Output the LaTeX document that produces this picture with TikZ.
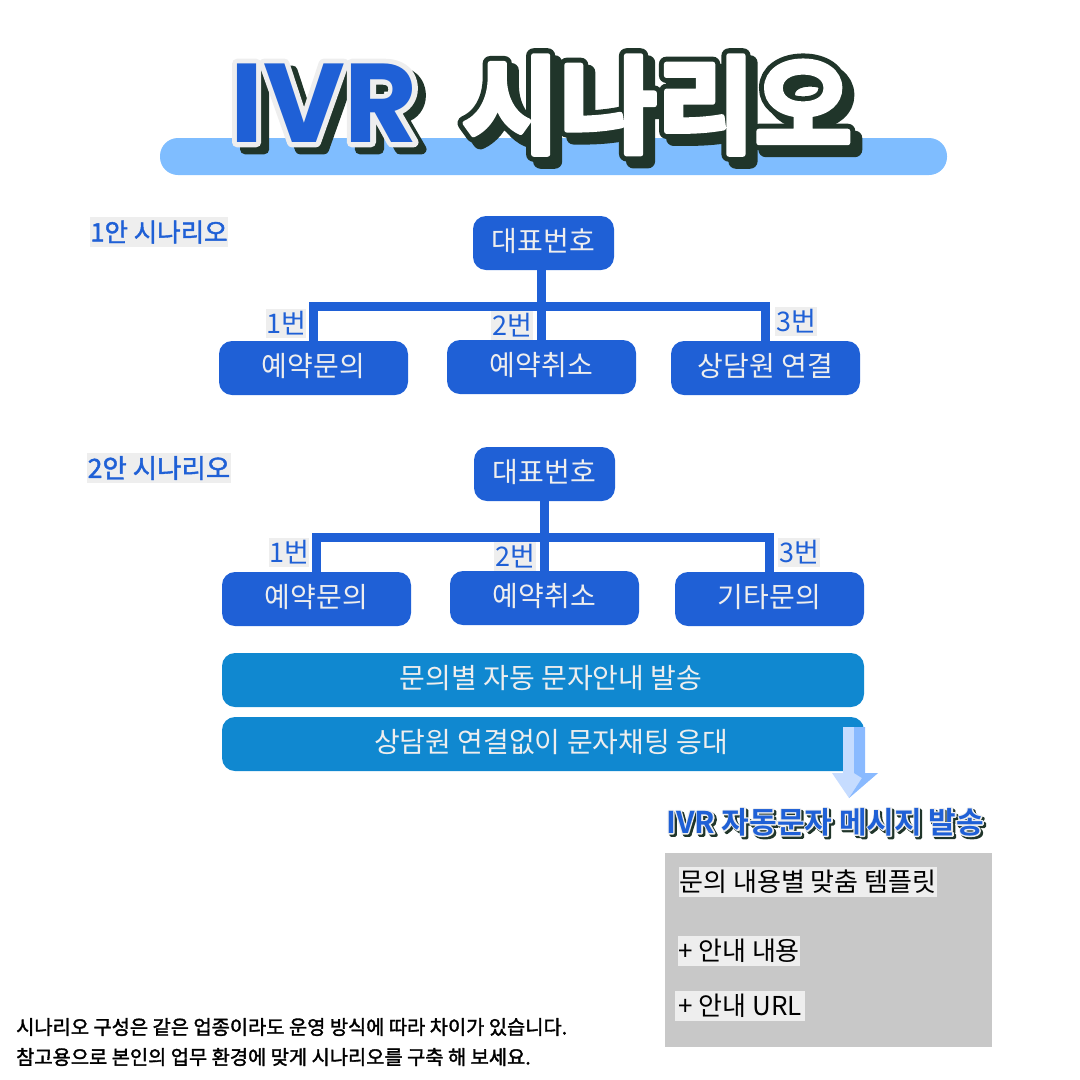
\documentclass[tikz,border=0pt]{standalone}
\usepackage{fontspec}
\setmainfont{Noto Sans CJK KR}
\newfontfamily\ivrfont{Poppins Bold}
\newfontfamily\titlefont{Noto Sans CJK KR Bold}
\newcommand{\stroketext}[2]{\special{pdf:code 2 Tr #1 w 1 j}#2\special{pdf:code 0 Tr 0 w}}
\definecolor{boxblue}{HTML}{1F60D6}
\definecolor{bannerblue}{HTML}{1088D0}
\definecolor{barblue}{HTML}{7FBDFF}
\definecolor{labelgrey}{HTML}{EEEEEE}
\definecolor{panelgrey}{HTML}{C8C8C8}
\definecolor{shadowgreen}{HTML}{20352A}
\definecolor{arrowlight}{HTML}{C6DCFF}
\definecolor{arrowdark}{HTML}{8ABAFF}
\tikzset{
  menubox/.style={fill=boxblue,rounded corners=13pt,text=labelgrey,inner sep=0pt,minimum width=189pt,minimum height=54pt,text depth=6pt,font=\fontsize{28}{28}\selectfont},
  topbox/.style={menubox,minimum width=141pt},
  bannerbox/.style={menubox,fill=bannerblue,minimum width=642pt},
  trunkline/.style={draw=boxblue,line width=9.5pt},
  numlabel/.style={fill=labelgrey,text=boxblue,inner sep=0pt,minimum height=29pt,font=\fontsize{27}{27}\selectfont},
  planlabel/.style={fill=labelgrey,text=boxblue,inner sep=0pt,minimum height=30pt},
  paneltext/.style={fill=labelgrey,text=black,inner sep=0pt,minimum height=30pt,font=\fontsize{26}{26}\selectfont},
  notetext/.style={anchor=west,inner sep=0pt,text=black,font=\fontsize{19.8}{19.8}\selectfont},
  ivrtext/.style={font=\fontsize{112}{112}\ivrfont},
  scntext/.style={font=\fontsize{106}{106}\titlefont},
  msgtext/.style={font=\fontsize{30}{30}\titlefont}
}
\begin{document}
\begin{tikzpicture}[x=1pt,y=-1pt]
\useasboundingbox (0,0) rectangle (1080,1080);
% title
\fill[barblue,rounded corners=18pt] (160,138) rectangle (947,175);
\node[ivrtext,text=shadowgreen] (ivrs) at (332,110) {\stroketext{10}{IVR}};
\node[scntext,text=shadowgreen] (scns) at (664,112) {\stroketext{15}{시나리오}};
\node[ivrtext,text=labelgrey] (ivro) at (324,103) {\stroketext{10}{IVR}};
\node[scntext,text=shadowgreen] (scno) at (657,105) {\stroketext{15}{시나리오}};
\node[ivrtext,text=boxblue] (ivr) at (324,103) {IVR};
\node[scntext,text=white] (scn) at (657,105) {\stroketext{5}{시나리오}};
% plan 1
\node[planlabel,minimum width=138pt,font=\fontsize{25.5}{25.5}\selectfont] (plan1) at (159,232) {\stroketext{0.4}{1안 시나리오}};
\node[topbox] (top1) at (543.5,243) {대표번호};
\node[menubox] (m11) at (313.5,368) {예약문의};
\node[menubox] (m12) at (541.5,367) {예약취소};
\node[menubox] (m13) at (765.5,368) {상담원 연결};
\coordinate (bar1) at (541.5,306.5);
\draw[trunkline] (top1.south -| bar1) -- (bar1);
\draw[trunkline,line cap=butt] (m11.north) |- (bar1) -| (m13.north);
\draw[trunkline] (bar1) -- (m12.north);
\node[numlabel,minimum width=35pt] (n11) at (286,323) {1번};
\node[numlabel,minimum width=42pt] (n12) at (512,325) {2번};
\node[numlabel,minimum width=42pt] (n13) at (796,321) {3번};
% plan 2
\node[planlabel,minimum width=144pt,font=\fontsize{26.5}{26.5}\selectfont] (plan2) at (159,468) {\stroketext{0.4}{2안 시나리오}};
\node[topbox] (top2) at (544.5,474) {대표번호};
\node[menubox] (m21) at (316.5,599) {예약문의};
\node[menubox] (m22) at (544.5,598) {예약취소};
\node[menubox] (m23) at (769.5,599) {기타문의};
\coordinate (bar2) at (544.5,537.5);
\draw[trunkline] (top2.south -| bar2) -- (bar2);
\draw[trunkline,line cap=butt] (m21.north) |- (bar2) -| (m23.north);
\draw[trunkline] (bar2) -- (m22.north);
\node[numlabel,minimum width=35pt] (n21) at (289,552) {1번};
\node[numlabel,minimum width=42pt] (n22) at (515,556) {2번};
\node[numlabel,minimum width=42pt] (n23) at (799,552) {3번};
\node[bannerbox] (ban1) at (543,680) {\hspace*{16pt}문의별 자동 문자안내 발송};
\node[bannerbox] (ban2) at (543,744) {\hspace*{16pt}상담원 연결없이 문자채팅 응대};
% arrow
\fill[arrowlight] (843,727) -- (854,727) -- (854,773) -- (878,773) -- (849,798) -- (832,773) -- (843,773) -- cycle;
\fill[arrowdark] (854,727) -- (865,727) -- (865,773) -- (878,773) -- (849,798) -- (862,778) -- (854,773) -- cycle;
% panel
\node[msgtext,text=shadowgreen] (msgs) at (827,824) {\stroketext{3}{IVR 자동문자 메시지 발송}};
\node[msgtext,text=labelgrey] (msgo) at (825,822) {\stroketext{2.5}{IVR 자동문자 메시지 발송}};
\node[msgtext,text=boxblue] (msg) at (825,822) {IVR 자동문자 메시지 발송};
\fill[panelgrey] (665,853) rectangle (992,1047);
\node[paneltext,minimum width=258pt] (tp1) at (808,882) {문의 내용별 맞춤 템플릿};
\node[paneltext,minimum width=122pt] (tp2) at (739,951) {+ 안내 내용};
\node[paneltext,minimum width=130pt] (tp3) at (740,1006) {+ 안내 URL};
% note
\node[notetext] (note1) at (16,1027) {\stroketext{0.35}{시나리오 구성은 같은 업종이라도 운영 방식에 따라 차이가 있습니다.}};
\node[notetext] (note2) at (16,1057) {\stroketext{0.35}{참고용으로 본인의 업무 환경에 맞게 시나리오를 구축 해 보세요.}};
\end{tikzpicture}
\end{document}
